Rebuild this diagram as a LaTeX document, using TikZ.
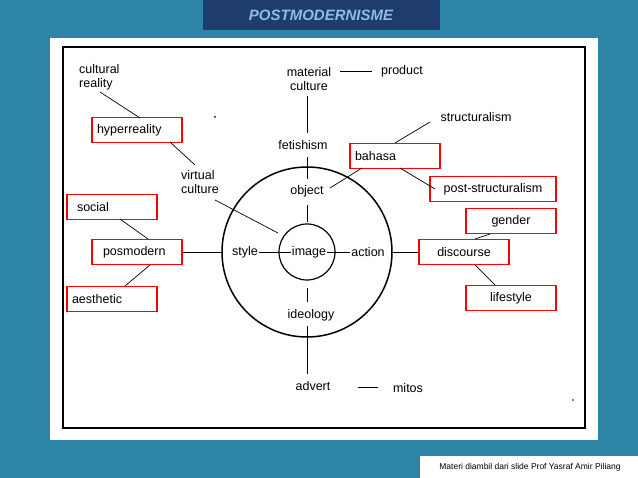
\documentclass[tikz,border=0pt]{standalone}
\usepackage{fontspec}
\setmainfont{Liberation Sans}
\begin{document}
\begin{tikzpicture}[x=1pt,y=-1pt,
  lbl/.style={font=\fontsize{12.5}{14}\selectfont,inner sep=1pt,align=left},
  rbox/.style={draw=red,line width=1.2pt,minimum width=90pt,minimum height=25pt,font=\fontsize{12.5}{14}\selectfont,inner sep=1pt},
  lbox/.style={rbox,align=left,text width=80pt,inner xsep=5pt},
  ln/.style={line width=0.7pt}]
\useasboundingbox (0,0) rectangle (638,478);
\fill[fill={rgb,255:red,46;green,134;blue,166}] (0,0) rectangle (638,478);
\fill[fill={rgb,255:red,30;green,60;blue,110}] (203,0) rectangle (440,30);
\node[font=\fontsize{15}{17}\selectfont\bfseries\itshape,text={rgb,255:red,140;green,190;blue,230}] (title) at (321,15) {POSTMODERNISME};
\fill[white] (50,38) rectangle (598,440);
\draw[line width=1.5pt] (63,47) rectangle (585,428);
\fill[white] (420,456) rectangle (638,478);
\node[font=\fontsize{8.5}{10}\selectfont] (foot) at (530,467) {Materi diambil dari slide Prof Yasraf Amir Piliang};
% circles
\draw[line width=1.5pt] (307,252) circle (85);
\draw[line width=1.2pt] (307,252) circle (28);
\node[lbl] (image) at (309,252) {image};
\node[lbl] (style) at (245,252) {style};
\node[lbl] (action) at (368,252) {action};
\node[lbl] (object) at (307,191) {object};
\node[lbl] (ideology) at (311,315) {ideology};
\node[lbl,align=center] (mat) at (309,79) {material\\culture};
\node[lbl] (product) at (402,71) {product};
\node[lbl] (fet) at (303,145) {fetishism};
\node[lbl] (advert) at (313,386) {advert};
\node[lbl] (mitos) at (408,388) {mitos};
\node[lbl,anchor=west] (cult) at (78,77) {cultural\\reality};
\node[lbox] (hyper) at (137,130) {hyperreality};
\node[lbl,anchor=west] (virt) at (180,182) {virtual\\culture};
\node[lbox,text width=70pt,inner xsep=10pt] (social) at (112,207) {social};
\node[lbox,text width=68pt,inner xsep=10pt] (pos) at (137,252) {posmodern};
\node[lbox] (aes) at (112,299) {aesthetic};
\node[lbl] (struct) at (476,117) {structuralism};
\node[lbox] (bahasa) at (395,156) {bahasa};
\node[rbox,minimum width=126pt] (post) at (493,189) {post-structuralism};
\node[rbox] (gender) at (511,221) {gender};
\node[rbox] (disc) at (464,252) {discourse};
\node[rbox] (life) at (511,298) {lifestyle};
\fill (215,117) circle (1);
\fill (573,400) circle (0.8);
% connectors
\draw[ln] (style) -- (image); \draw[ln] (image) -- (action);
\draw[ln] (307,205) -- (307,222);
\draw[ln] (307,288) -- (307,302);
\draw[ln] (340,71) -- (372,71);
\draw[ln] (307,96) -- (307,133);
\draw[ln] (307,157) -- (307,179);
\draw[ln] (307,326) -- (307,374);
\draw[ln] (358,387) -- (378,387);
\draw[ln] (100,92) -- (140,118);
\draw[ln] (170,142) -- (195,165);
\draw[ln] (215,200) -- (278,233);
\draw[ln] (120,219) -- (148,239);
\draw[ln] (150,265) -- (125,286);
\draw[ln] (pos) -- (222,252);
\draw[ln] (395,143) -- (430,122);
\draw[ln] (330,188) -- (362,168);
\draw[ln] (400,168) -- (435,189);
\draw[ln] (392,252) -- (disc);
\draw[ln] (475,239) -- (490,234);
\draw[ln] (475,265) -- (495,285);
\end{tikzpicture}
\end{document}
